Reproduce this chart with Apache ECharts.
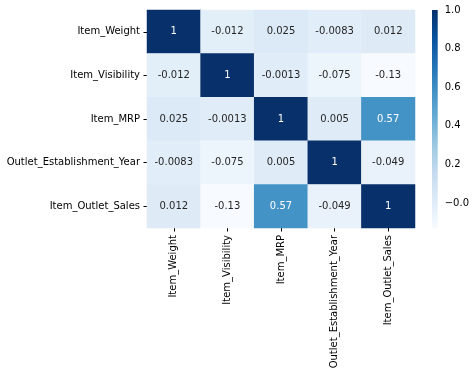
<!DOCTYPE html>
<html><head><meta charset="utf-8">
<script src="https://cdn.jsdelivr.net/npm/echarts@6/dist/echarts.min.js"></script>
<style>html,body{margin:0;padding:0;background:#fff}#c{width:472px;height:375px}</style>
</head><body><div id="c"></div>
<script>
var categories = ['Item_Weight','Item_Visibility','Item_MRP','Outlet_Establishment_Year','Item_Outlet_Sales'];
var row0 = [1, -0.012, 0.025, -0.0083, 0.012];
var row1 = [-0.012, 1, -0.0013, -0.075, -0.13];
var row2 = [0.025, -0.0013, 1, 0.005, 0.57];
var row3 = [-0.0083, -0.075, 0.005, 1, -0.049];
var row4 = [0.012, -0.13, 0.57, -0.049, 1];
var colorbarTicks = [0, 0.2, 0.4, 0.6, 0.8, 1.0];
var vmin = -0.13, vmax = 1;
var blues = ['#f7fbff','#deebf7','#c6dbef','#9ecae1','#6baed6','#4292c6','#2171b5','#08519c','#08306b'];

var rows = [row0,row1,row2,row3,row4];
var data = [];
rows.forEach(function(r, yi){ r.forEach(function(v, xi){ data.push([xi, yi, v]); }); });

function fmt(v){ return String(Number(v.toPrecision(2))); }
function textColor(v){
  var t = (v - vmin)/(vmax - vmin);
  return t > 0.55 ? '#ffffff' : '#262626';
}
var font = 'DejaVu Sans';
var chart = echarts.init(document.getElementById('c'), null, {renderer:'canvas'});
var gradStops = blues.map(function(c,i){ return {offset: 1 - i/(blues.length-1), color: c}; });
chart.setOption({
  animation: false,
  textStyle: {fontFamily: font},
  grid: [
    {left:147, top:10, width:268, height:218},
    {left:432, top:10, width:11, height:218}
  ],
  xAxis: [
    {type:'category', gridIndex:0, data:categories, position:'bottom',
     axisLine:{show:false}, splitLine:{show:false},
     axisTick:{show:true, alignWithLabel:true, length:3.5, lineStyle:{color:'#000'}},
     axisLabel:{rotate:90, fontSize:10, color:'#000', fontFamily:font, margin:7, interval:0}},
    {type:'value', gridIndex:1, min:0, max:1, show:false}
  ],
  yAxis: [
    {type:'category', gridIndex:0, data:categories, inverse:true,
     axisLine:{show:false}, splitLine:{show:false},
     axisTick:{show:true, alignWithLabel:true, length:3.5, lineStyle:{color:'#000'}},
     axisLabel:{fontSize:10, color:'#000', fontFamily:font, margin:7, interval:0}},
    {type:'value', gridIndex:1, min:vmin, max:vmax, position:'right',
     axisLine:{show:false}, splitLine:{show:false},
     axisTick:{show:true, length:3.5, inside:false, lineStyle:{color:'#000'}, customValues: colorbarTicks},
     axisLabel:{fontSize:10, color:'#000', fontFamily:font, margin:7, customValues: colorbarTicks,
       formatter:function(v){ return Math.abs(v) < 1e-9 ? '\u22120.0' : v.toFixed(1); }}}
  ],
  visualMap: {type:'continuous', min:vmin, max:vmax, show:false, seriesIndex:0, inRange:{color:blues}},
  series: [
    {type:'heatmap', xAxisIndex:0, yAxisIndex:0,
     data: data.map(function(d){ return {value:d, label:{color:textColor(d[2])}}; }),
     itemStyle:{borderWidth:0},
     label:{show:true, fontSize:10, fontFamily:font,
       formatter:function(p){ return fmt(p.value[2]); }},
     emphasis:{disabled:true}},
    {type:'custom', xAxisIndex:1, yAxisIndex:1, data:[[0, vmin, vmax]],
     renderItem:function(params, api){
       var p0 = api.coord([0, api.value(1)]);
       var p1 = api.coord([1, api.value(2)]);
       return {type:'rect', shape:{x:p0[0], y:p1[1], width:p1[0]-p0[0], height:p0[1]-p1[1]},
         style:{fill:new echarts.graphic.LinearGradient(0,0,0,1,gradStops)}};
     }}
  ]
});
</script></body></html>
